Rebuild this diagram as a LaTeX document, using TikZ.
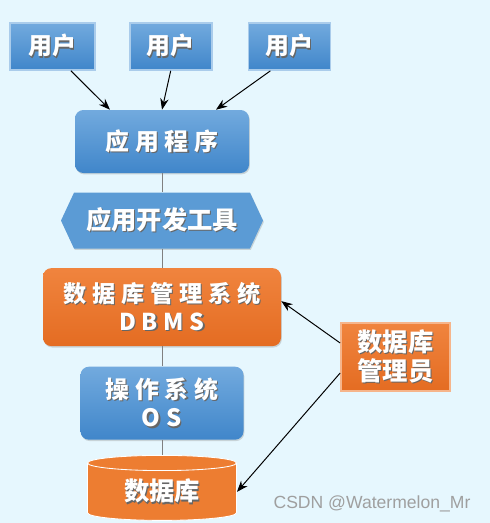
\documentclass[tikz,border=0pt]{standalone}
\usepackage{fontspec}
\newfontfamily\cjk{Noto Sans CJK SC}
\newfontfamily\cjkwide[LetterSpace=25]{Noto Sans CJK SC}
\newfontfamily\wmfont{Liberation Sans}
\usetikzlibrary{positioning,shapes.geometric,shapes.symbols,shadows,arrows.meta}
\definecolor{bgc}{RGB}{230,247,254}
\definecolor{blueT}{RGB}{114,170,222}
\definecolor{blueB}{RGB}{64,134,202}
\definecolor{blueF}{RGB}{91,155,213}
\definecolor{orgT}{RGB}{240,132,62}
\definecolor{orgB}{RGB}{228,108,34}
\definecolor{orgF}{RGB}{237,125,49}
\newcommand\shtext[1]{\makebox[0pt][l]{\raisebox{-0.8pt}{\kern0.8pt\textcolor{black!60}{#1}}}#1}

\begin{document}
\begin{tikzpicture}[
	box/.style={rounded corners=6pt, text=white, align=center, inner sep=0pt,
		drop shadow={opacity=0.3,shadow xshift=0.6pt,shadow yshift=-1pt}},
	bluebox/.style={box, top color=blueT, bottom color=blueB},
	orgbox/.style={box, top color=orgT, bottom color=orgB},
	bevel/.style={rectangle, text=white, align=center, inner sep=0pt, line width=1.2pt},
	user/.style={bevel, draw=blueT!60!white, top color=blueT, bottom color=blueB,
		minimum width=2.05cm, minimum height=1.175cm, font=\cjk\bfseries\fontsize{17}{20}\selectfont},
	link/.style={draw=gray, line width=0.6pt},
	arr/.style={-{Stealth[length=8pt,width=6pt]}, line width=0.7pt},
]
	\fill[bgc] (0,0) rectangle (12.25,-13.075);
	\useasboundingbox (0,0) rectangle (12.25,-13.075);
	%% 用户
	\node[user, minimum width=2.125cm] (u1) at (1.3125,-1.1625) {\shtext{用户}};
	\node[user, right=0.825 of u1] (u2) {\shtext{用户}};
	\node[user, right=0.875 of u2] (u3) {\shtext{用户}};
	%% 应用程序
	\node[bluebox, minimum width=4.35cm, minimum height=1.575cm,
		font=\cjkwide\bfseries\fontsize{17}{20}\selectfont] (app) at (4.05,-3.5375) {\shtext{应用程序}};
	\node[signal, signal to=west and east, signal pointer angle=130, fill=blueF, text=white,
		inner sep=0pt, minimum width=5.05cm, minimum height=1.4cm,
		drop shadow={opacity=0.3,shadow xshift=0.6pt,shadow yshift=-1pt},
		font=\cjk\bfseries\fontsize{18}{20}\selectfont, below=0.475 of app] (tool) {\shtext{应用开发工具}};
	%% 数据库管理系统
	\node[orgbox, minimum width=5.95cm, minimum height=1.95cm,
		font=\cjkwide\bfseries\fontsize{16.5}{20}\selectfont, below=0.475 of tool] (dbms)
		{\shtext{数据库管理系统}\\\shtext{DBMS}};
	\node[bluebox, minimum width=4.075cm, minimum height=1.825cm,
		font=\cjkwide\bfseries\fontsize{17}{20}\selectfont, below=0.5 of dbms] (os)
		{\shtext{操作系统}\\\shtext{OS}};
	\node[cylinder, shape border rotate=90, aspect=0.2, draw=white, line width=0.6pt,
		cylinder uses custom fill, cylinder body fill=orgF, cylinder end fill=orgF,
		text=white, inner sep=0pt, minimum width=3.725cm, minimum height=1.625cm,
		font=\cjk\bfseries\fontsize{18}{20}\selectfont, below=0.375 of os] (db) {\shtext{数据库}};
	%% 管理员
	\node[bevel, draw=orgT!60!white, top color=orgT, bottom color=orgB,
		minimum width=2.725cm, minimum height=1.7cm,
		font=\cjk\bfseries\fontsize{18}{21}\selectfont] (dba) at (9.8875,-8.925)
		{\shtext{数据库}\\\shtext{管理员}};
	\node[text=gray!75, font=\wmfont\fontsize{12.5}{14}\selectfont] (wm) at (9.3,-12.6) {CSDN @Watermelon\_Mr};
	% 连线
	\draw[link] (app.south) -- (tool.north);
	\draw[link] (tool.south) -- (dbms.north);
	\draw[link] (dbms.south) -- (os.north);
	\draw[link] (os.south) -- (db.north);
	% 箭头
	\draw[arr] ([xshift=0.46cm]u1.south) -- ([xshift=-1.3cm]app.north);
	\draw[arr] (u2.south) -- (app.north);
	\draw[arr] ([xshift=-0.475cm]u3.south) -- ([xshift=1.35cm]app.north);
	\draw[arr] ([yshift=0.35cm]dba.west) -- ([yshift=0.15cm]dbms.east);
	\draw[arr] ([yshift=-0.4cm]dba.west) -- (db.east);
\end{tikzpicture}
\end{document}
